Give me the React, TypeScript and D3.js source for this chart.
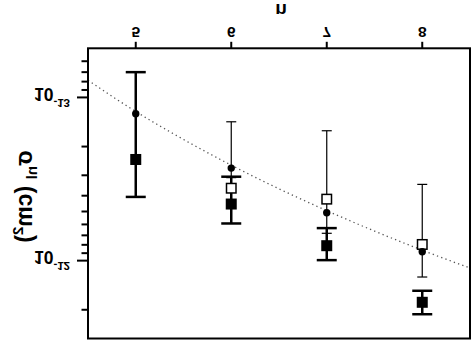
import React, { useEffect } from 'react';
import * as d3 from 'd3';

const W = 474;
const H = 344;

// x axis (principal quantum number n)
const nTicks = [5, 6, 7, 8];
const xDomain = [4.5, 8.5];

// y axis (log scale, cm^2)
const yDomain = [5e-14, 3e-12];
const yMajor = [1e-13, 1e-12];
const yMajorExp = ['-13', '-12'];
const yMinor = [6e-14, 7e-14, 8e-14, 9e-14, 2e-13, 3e-13, 4e-13, 5e-13, 6e-13, 7e-13, 8e-13, 9e-13, 2e-12];

// filled circles with thin error bars
const circleN = [5, 6, 7, 8];
const circleVals = [1.26e-13, 2.71e-13, 5.09e-13, 8.83e-13];
const thinBarN = [6, 7, 8];
const thinLow = [1.41e-13, 1.6e-13, 3.41e-13];
const thinHigh = [3.1e-13, 6.8e-13, 1.26e-12];

// open squares
const openSqN = [6, 7, 8];
const openSqVals = [3.6e-13, 4.2e-13, 7.96e-13];

// filled squares with thick error bars
const filledSqN = [5, 6, 7, 8];
const filledSqVals = [2.4e-13, 4.5e-13, 8.1e-13, 1.8e-12];
const filledLow = [7.0e-14, 3.06e-13, 6.32e-13, 1.53e-12];
const filledHigh = [4.07e-13, 5.92e-13, 9.93e-13, 2.13e-12];

// dotted scaling curve
const fitN = [4.5, 5, 5.5, 6, 6.5, 7, 7.5, 8, 8.5];
const fitVals = [7.84e-14, 1.22e-13, 1.81e-13, 2.6e-13, 3.63e-13, 4.94e-13, 6.59e-13, 8.63e-13, 1.11e-12];

const FONT = "'Liberation Sans', Arial, Helvetica, sans-serif";

export default function App() {
  useEffect(() => {
    document.body.style.margin = '0';
  }, []);

  const left = 88, right = 470, top = 5.5, bottom = 295.7;
  const x = d3.scaleLinear().domain(xDomain).range([left, right]);
  const y = d3.scaleLog().domain(yDomain).range([bottom, top]);

  const fitLine = d3
    .line<number>()
    .x((_, i) => x(fitN[i]))
    .y((d) => y(d))
    .curve(d3.curveMonotoneX)(fitVals) as string;

  const thickCap = 10;
  const thinCap = 5;
  const sq = 11;

  return (
    <svg width={W} height={H} style={{ position: 'absolute', left: 0, top: 0 }} fontFamily={FONT}>
      <rect x={0} y={0} width={W} height={H} fill="#fff" />
      <defs>
        <clipPath id="plotClip">
          <rect x={left} y={top} width={right - left} height={bottom - top} />
        </clipPath>
      </defs>
      <g transform={`translate(0,${H}) scale(1,-1)`}>
        {/* dotted curve */}
        <path
          d={fitLine}
          fill="none"
          stroke="#555"
          strokeWidth={1.3}
          strokeDasharray="1.3 3.2"
          clipPath="url(#plotClip)"
        />

        {/* thin error bars */}
        {thinBarN.map((n, i) => (
          <g key={'thin' + n} stroke="#000" strokeWidth={1.2}>
            <line x1={x(n)} x2={x(n)} y1={y(thinLow[i])} y2={y(thinHigh[i])} />
            <line x1={x(n) - thinCap} x2={x(n) + thinCap} y1={y(thinLow[i])} y2={y(thinLow[i])} />
            <line x1={x(n) - thinCap} x2={x(n) + thinCap} y1={y(thinHigh[i])} y2={y(thinHigh[i])} />
          </g>
        ))}

        {/* thick error bars */}
        {filledSqN.map((n, i) => (
          <g key={'thick' + n} stroke="#000" strokeWidth={2.5}>
            <line x1={x(n)} x2={x(n)} y1={y(filledLow[i])} y2={y(filledHigh[i])} />
            <line x1={x(n) - thickCap} x2={x(n) + thickCap} y1={y(filledLow[i])} y2={y(filledLow[i])} />
            <line x1={x(n) - thickCap} x2={x(n) + thickCap} y1={y(filledHigh[i])} y2={y(filledHigh[i])} />
          </g>
        ))}

        {/* open squares */}
        {openSqN.map((n, i) => (
          <rect
            key={'open' + n}
            x={x(n) - sq / 2 + 0.75}
            y={y(openSqVals[i]) - sq / 2 + 0.75}
            width={sq - 1.5}
            height={sq - 1.5}
            fill="#fff"
            stroke="#000"
            strokeWidth={1.5}
          />
        ))}

        {/* filled squares */}
        {filledSqN.map((n, i) => (
          <rect key={'fill' + n} x={x(n) - sq / 2} y={y(filledSqVals[i]) - sq / 2} width={sq} height={sq} fill="#000" />
        ))}

        {/* filled circles */}
        {circleN.map((n, i) => (
          <circle key={'c' + n} cx={x(n)} cy={y(circleVals[i])} r={3.7} fill="#000" />
        ))}

        {/* frame */}
        <rect x={left} y={top} width={right - left} height={bottom - top} fill="none" stroke="#000" strokeWidth={2} />

        {/* x ticks */}
        {nTicks.map((n) => (
          <g key={'xt' + n}>
            <line x1={x(n)} x2={x(n)} y1={bottom} y2={bottom + 6.5} stroke="#000" strokeWidth={2} />
            <text x={x(n)} y={317.5} textAnchor="middle" fontSize={15.5} fontWeight="bold">
              {n}
            </text>
          </g>
        ))}
        <text x={281} y={340.5} textAnchor="middle" fontSize={19} fontWeight="bold">
          n
        </text>

        {/* y ticks */}
        {yMinor.map((v) => (
          <line key={'ym' + v} x1={left - 6.5} x2={left} y1={y(v)} y2={y(v)} stroke="#000" strokeWidth={2} />
        ))}
        {yMajor.map((v, i) => (
          <g key={'yM' + v}>
            <line x1={left - 11} x2={left} y1={y(v)} y2={y(v)} stroke="#000" strokeWidth={2} />
            <text x={70} y={y(v) + 9.5} textAnchor="end" fontSize={17.5} fontWeight="bold">
              10
              <tspan fontSize={11.5} dy={-11}>
                {yMajorExp[i]}
              </tspan>
            </text>
          </g>
        ))}

        {/* y label */}
        <text transform={`translate(32,147.5) rotate(-90)`} textAnchor="middle" fontSize={23} fontWeight="bold">
          σ
          <tspan fontSize={15} dy={5}>
            nl
          </tspan>
          <tspan dy={-5}> (cm</tspan>
          <tspan fontSize={15} dy={-9}>
            2
          </tspan>
          <tspan dy={9}>)</tspan>
        </text>
      </g>
    </svg>
  );
}
